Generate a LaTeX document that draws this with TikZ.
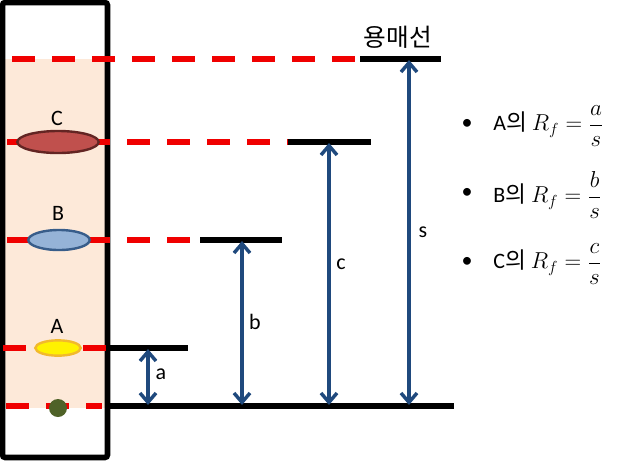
\documentclass[tikz,border=0pt]{standalone}
\usepackage{fontspec}
\usepackage{amsmath}
\setmainfont{Carlito}
\newfontfamily\kor{Noto Sans CJK KR}
\usetikzlibrary{shapes,arrows.meta}
\definecolor{eluent}{HTML}{FDE9D9}
\definecolor{gapblue}{HTML}{1F497D}
\definecolor{dashred}{HTML}{F00000}
\definecolor{spotCfill}{HTML}{C0504D}
\definecolor{spotCline}{HTML}{632523}
\definecolor{spotBfill}{HTML}{95B3D7}
\definecolor{spotBline}{HTML}{385D8A}
\definecolor{spotAline}{HTML}{F2B92C}
\definecolor{spotOfill}{HTML}{4F6228}
\newcommand{\rfline}[2]{#1{\kor\fontsize{17}{19}\selectfont 의} {\fontsize{18}{20}\selectfont$R_f=\dfrac{#2}{s}$}}
\tikzset{
    label/.style={inner sep=0pt,font=\fontsize{16.5}{19}\selectfont},
    rfitem/.style={inner sep=0pt,anchor=west,font=\fontsize{16.5}{19}\selectfont},
    level/.style={draw=black,line width=3.8pt},
    front/.style={draw=dashred,line width=4.2pt,dash pattern=on 17pt off 13pt},
    gap/.style={draw=gapblue,line width=2.6pt,{Straight Barb[length=7pt,width=12pt,line width=2.6pt]}-{Straight Barb[length=7pt,width=12pt,line width=2.6pt]}},
    spot/.style={ellipse,inner sep=0pt,line width=1.8pt}
}

\begin{document}
\begin{tikzpicture}[x=0.75pt,y=-0.75pt]
    \useasboundingbox (0,0) rectangle (620,461);
    % tube
    \fill[eluent] (5,59) rectangle (105,408);
    \draw[black,line width=4.2pt,rounded corners=2pt] (2.5,2.5) rectangle (107.5,457.5);
    % where the fronts start
    \coordinate (frontS) at (12,59);
    \coordinate (frontC) at (7,142);
    \coordinate (frontB) at (7,240);
    \coordinate (frontA) at (3,348);
    \coordinate (frontO) at (6,406);
    \coordinate (endO) at (102,406);
    % levels
    \coordinate (levelSl) at (360,59);
    \coordinate (levelSr) at (441,59);
    \coordinate (levelCl) at (288,142);
    \coordinate (levelCr) at (371,142);
    \coordinate (levelBl) at (200,240);
    \coordinate (levelBr) at (282,240);
    \coordinate (levelAl) at (110,348);
    \coordinate (levelAr) at (188,348);
    \coordinate (levelOl) at (110,406);
    \coordinate (levelOr) at (454,406);
    \draw[front] (frontS) -- (levelSl);
    \draw[front] (frontC) -- (levelCl);
    \draw[front] (frontB) -- (190,240);
    \draw[front] (frontA) -- (levelAl);
    \draw[front] (frontO) -- (endO);
    \draw[level] (levelSl) -- (levelSr);
    \draw[level] (levelCl) -- (levelCr);
    \draw[level] (levelBl) -- (levelBr);
    \draw[level] (levelAl) -- (levelAr);
    \draw[level] (levelOl) -- (levelOr);
    % spots
    \node[spot,draw=spotCline,fill=spotCfill,minimum width=61pt,minimum height=16.5pt] (spotC) at (58,142) {};
    \node[spot,draw=spotBline,fill=spotBfill,minimum width=46pt,minimum height=15pt] (spotB) at (59,240) {};
    \node[spot,draw=spotAline,fill=yellow,minimum width=34pt,minimum height=11.5pt] (spotA) at (58,348) {};
    \node[circle,fill=spotOfill,inner sep=0pt,minimum size=13.5pt] (spotO) at (58,408) {};
    \node[label] (nameC) at (57,118) {C};
    \node[label] (nameB) at (58,213) {B};
    \node[label] (nameA) at (57,326) {A};
    \node[inner sep=0pt,font=\kor\fontsize{18.5}{20}\selectfont] (solvent) at (398,37) {용매선};
    % distances
    \coordinate (topA) at (148,349);
    \coordinate (botA) at (148,405);
    \coordinate (topB) at (242,241);
    \coordinate (botB) at (242,405);
    \coordinate (topC) at (329,143);
    \coordinate (botC) at (329,405);
    \coordinate (topS) at (409,60);
    \coordinate (botS) at (409,405);
    \draw[gap] (topA) -- (botA);
    \draw[gap] (topB) -- (botB);
    \draw[gap] (topC) -- (botC);
    \draw[gap] (topS) -- (botS);
    \node[label] (distA) at (161,374) {a};
    \node[label] (distB) at (255,322) {b};
    \node[label] (distC) at (341,264) {c};
    \node[label] (distS) at (423,232) {s};
    % Rf list
    \node[label] (dotA) at (467,124) {•};
    \node[label] (dotB) at (467,193) {•};
    \node[label] (dotC) at (467,262) {•};
    \node[rfitem] (rfA) at (493,126) {\rfline{A}{a}};
    \node[rfitem] (rfB) at (493,195) {\rfline{B}{b}};
    \node[rfitem] (rfC) at (493,264) {\rfline{C}{c}};
\end{tikzpicture}
\end{document}
